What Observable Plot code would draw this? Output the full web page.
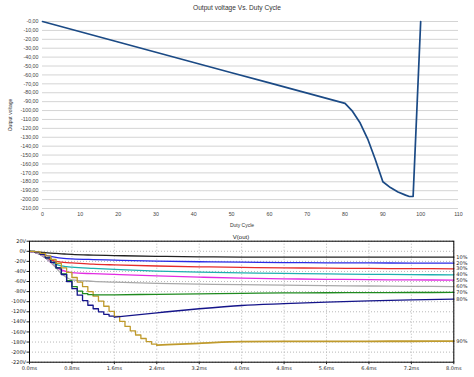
<!DOCTYPE html>
<html><head><meta charset="utf-8">
<script src="https://cdn.jsdelivr.net/npm/d3@7"></script>
<script src="https://cdn.jsdelivr.net/npm/@observablehq/plot@0.6"></script>
<style>
body{margin:0;background:#fff;}
#wrap{position:relative;width:474px;height:377px;overflow:hidden;font-family:"Liberation Sans",Arial,sans-serif;}
#top{position:absolute;left:0;top:0;}
#bot{position:absolute;left:0;top:230px;}
.lbl{position:absolute;color:#333;white-space:nowrap;}
</style></head><body>
<div id="wrap">
  <div id="top"></div>
  <div id="bot"></div>
  <div class="lbl" style="left:0;width:474px;top:4px;text-align:center;font-size:6.6px;">Output voltage Vs. Duty Cycle</div>
  <div class="lbl" style="left:10px;top:115px;font-size:5px;transform:translate(-50%,-50%) rotate(-90deg);">Output voltage</div>
  <div class="lbl" style="left:242px;top:225px;font-size:5px;transform:translate(-50%,-50%);">Duty Cycle</div>
  <div class="lbl" style="left:241px;top:237px;font-size:6px;color:#222;transform:translate(-50%,-50%);">V(out)</div>
</div>
<script>
// ---------- Top chart: Output voltage vs duty cycle ----------
const dutyCycle     = [0, 10, 20, 30, 40, 50, 60, 70, 80, 82, 84, 86, 88, 90, 92, 94, 96, 97, 98, 100];
const outputVoltage = [0, -11.5, -23, -34.5, -46, -57.5, -69, -80.5, -92, -101, -114, -132, -155, -180, -186.5, -191.5, -195, -196.5, -196.5, 0];
const topXTicks = [0, 10, 20, 30, 40, 50, 60, 70, 80, 90, 100, 110];
const topYTicks = [0, -10, -20, -30, -40, -50, -60, -70, -80, -90, -100, -110, -120, -130, -140, -150, -160, -170, -180, -190, -200, -210];

// ---------- Bottom chart: V(out) transients ----------
const dutyLabels = ["10%", "20%", "30%", "40%", "50%", "60%", "70%", "80%", "90%"];
const smoothTimes = [0, 0.1, 0.2, 0.3, 0.4, 0.5, 0.6, 0.7, 0.8, 1.2, 1.6, 2.4, 3.2, 4.0, 4.8, 5.6, 6.4, 7.2, 8.0];
const v10 = [0, -1, -2, -2.8, -3.6, -4.3, -5, -5.7, -6.3, -7.6, -8.5, -10, -11, -11.5, -11.6, -11.7, -11.7, -11.7, -11.7];
const v20 = [0, -2, -4.5, -7.5, -10, -12, -13.5, -14.4, -15, -16.5, -17.6, -19.5, -20.8, -21.7, -22.3, -22.8, -23.1, -23.4, -23.6];
const v30 = [0, -2, -6, -12, -17, -20, -21.5, -22.4, -23, -25.5, -27, -29.2, -30.8, -32, -32.8, -33.5, -34, -34.4, -34.7];
const v40 = [0, -2, -6, -13, -21, -26, -29, -30.5, -31.5, -34, -36, -39.3, -41.3, -42.7, -43.9, -44.9, -45.7, -46.3, -46.7];
const v50 = [0, -2, -6, -13, -22, -31, -37, -40.5, -42.5, -44.5, -46, -48.8, -51.3, -53.3, -54.6, -55.6, -56.3, -56.8, -57.2];
const v60 = [0, -2, -6, -13, -22, -33, -44, -52, -56.5, -59.5, -61.3, -63.8, -65.2, -66.3, -67.3, -68.2, -68.9, -69.5, -70];

const rampTimes = [0, 0.1, 0.2, 0.3, 0.4, 0.5, 0.6, 0.7, 0.8, 0.9, 1.0, 1.1, 1.2, 1.3, 1.4, 1.5, 1.6, 1.7, 1.8, 1.9, 2.0, 2.1, 2.2, 2.3, 2.4];
const v70Ramp = [0, -2, -6, -13, -22, -33, -45, -58, -70, -79, -84, -86, -86.5];
const v80Ramp = [0, -2, -6, -13, -22, -33, -46, -60, -74, -87, -98, -107, -114, -120, -125, -128.5, -130.5];
const v90Ramp = [0, -1, -4, -9, -16, -24, -33, -42, -52, -61, -70, -80, -89, -99, -109, -119, -129, -139, -149, -158, -166, -173, -179, -184, -186];

const v70TailTimes = [1.2, 1.6, 2.4, 3.2, 4.0, 4.8, 5.6, 6.4, 7.2, 8.0];
const v70Tail      = [-86.5, -86.3, -85.3, -84.3, -83.3, -82.6, -82.2, -82, -81.8, -81.7];
const v80TailTimes = [1.6, 2.4, 3.2, 4.0, 4.8, 5.6, 6.4, 7.2, 8.0];
const v80Tail      = [-130.5, -122, -114, -107.5, -104, -101, -98.5, -96.5, -95];
const v90TailTimes = [2.4, 2.6, 3.2, 4.0, 4.8, 5.6, 6.4, 7.2, 8.0];
const v90Tail      = [-186, -185, -182.5, -179.3, -178.8, -178.6, -178.5, -178.4, -178.3];

const botXTicks = [0, 0.8, 1.6, 2.4, 3.2, 4.0, 4.8, 5.6, 6.4, 7.2, 8.0];
const botYTicks = [20, 0, -20, -40, -60, -80, -100, -120, -140, -160, -180, -200, -220];

const traceColors = ["#222222", "#2b2be6", "#e52b2b", "#1eb0b0", "#e22be2", "#a9a9a9", "#1f8a1f", "#15158a", "#bf9a2c"];

// ---- build tables ----
const topData = dutyCycle.map((d, i) => ({d, v: outputVoltage[i]}));

const smoothSeries = [v10, v20, v30, v40, v50, v60];
const smoothRows = [];
smoothSeries.forEach((arr, k) => arr.forEach((v, i) => smoothRows.push({t: smoothTimes[i], v, s: dutyLabels[k]})));

const rampSeries = [[6, v70Ramp], [7, v80Ramp], [8, v90Ramp]];
const rampRows = [];
rampSeries.forEach(([k, arr]) => arr.forEach((v, i) => rampRows.push({t: rampTimes[i], v, s: dutyLabels[k]})));

const tailSeries = [[6, v70TailTimes, v70Tail], [7, v80TailTimes, v80Tail], [8, v90TailTimes, v90Tail]];
const tailRows = [];
tailSeries.forEach(([k, ts, arr]) => arr.forEach((v, i) => tailRows.push({t: ts[i], v, s: dutyLabels[k]})));

const finals = [v10, v20, v30, v40, v50, v60, v70Tail, v80Tail, v90Tail].map((arr, k) => ({t: 8.0, v: arr[arr.length - 1], s: dutyLabels[k]}));

// ---- top plot ----
const topPlot = Plot.plot({
  width: 474, height: 230,
  marginLeft: 42, marginRight: 16, marginTop: 21, marginBottom: 22,
  x: {domain: [0, 110]},
  y: {domain: [-210, 0]},
  style: {fontFamily: "Liberation Sans, Arial, sans-serif", fontSize: "5.3px", color: "#444", background: "transparent"},
  marks: [
    Plot.gridY(topYTicks, {stroke: "#d4d4d4", strokeOpacity: 1, strokeWidth: 1}),
    Plot.axisX(topXTicks, {tickSize: 0, tickPadding: 4, tickFormat: d => String(d), label: null}),
    Plot.axisY(topYTicks, {tickSize: 0, tickPadding: 4, tickFormat: d => (d === 0 ? "-0,00" : d.toFixed(2).replace(".", ",")), label: null}),
    Plot.line(topData, {x: "d", y: "v", stroke: "#1b4a85", strokeWidth: 1.7})
  ]
});
document.getElementById("top").appendChild(topPlot);

// ---- bottom plot ----
const botPlot = Plot.plot({
  width: 474, height: 147,
  marginLeft: 29, marginRight: 20.7, marginTop: 10.7, marginBottom: 15.3,
  x: {domain: [0, 8]},
  y: {domain: [-220, 20]},
  color: {domain: dutyLabels, range: traceColors},
  style: {fontFamily: "DejaVu Sans, sans-serif", fontSize: "5px", color: "#222", background: "transparent"},
  marks: [
    Plot.gridX(botXTicks, {stroke: "#b8b8b8", strokeOpacity: 1, strokeDasharray: "1,2"}),
    Plot.gridY(botYTicks, {stroke: "#b8b8b8", strokeOpacity: 1, strokeDasharray: "1,2"}),
    Plot.line(smoothRows, {x: "t", y: "v", z: "s", stroke: "s", strokeWidth: 1.3, curve: "monotone-x"}),
    Plot.line(rampRows, {x: "t", y: "v", z: "s", stroke: "s", strokeWidth: 1.3, curve: "step-after"}),
    Plot.line(tailRows, {x: "t", y: "v", z: "s", stroke: "s", strokeWidth: d => d.s === "90%" ? 1.8 : 1.3, curve: "monotone-x"}),
    Plot.frame({stroke: "#000", strokeWidth: 1}),
    Plot.axisX(botXTicks, {tickSize: 2.5, tickPadding: 1.5, tickFormat: d => d.toFixed(1) + "ms", label: null}),
    Plot.axisY(botYTicks, {tickSize: 2.5, tickPadding: 1, tickFormat: d => String(d) + "V", label: null}),
    Plot.text(finals, {x: "t", y: "v", text: "s", textAnchor: "start", dx: 2.5, fill: "#222"})
  ]
});
document.getElementById("bot").appendChild(botPlot);
</script>
</body></html>
